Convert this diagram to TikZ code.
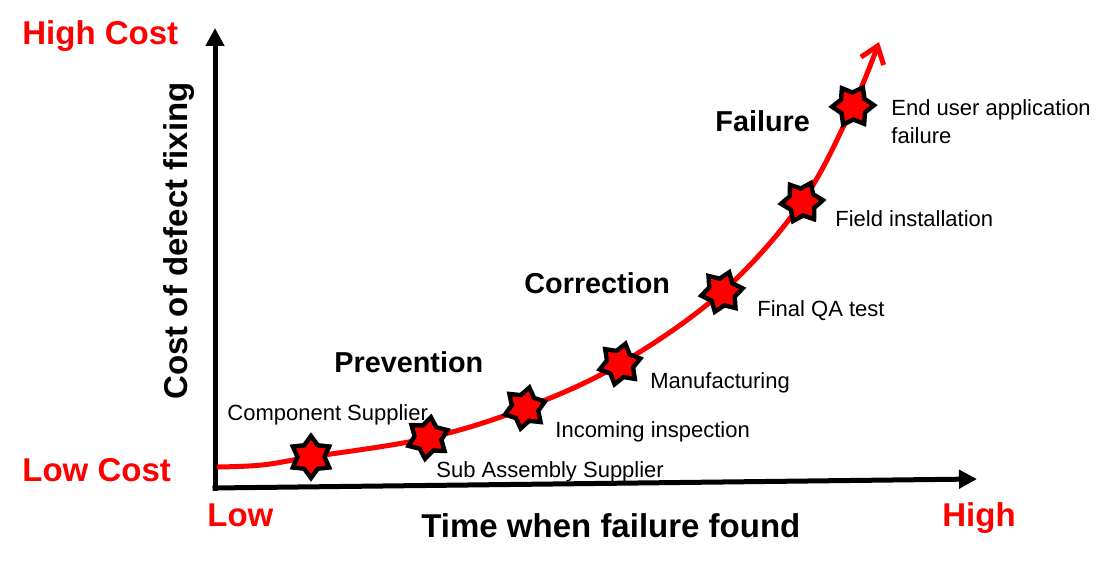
\documentclass[tikz,border=0pt]{standalone}
\usepackage{fontspec}
\setmainfont{Liberation Sans}
\usetikzlibrary{shapes.geometric,arrows.meta}
\begin{document}
\begin{tikzpicture}[x=0.5pt,y=-0.5pt,
  axis/.style={line width=2.5pt,black,-{Triangle[length=9pt,width=9pt]}},
  curve/.style={line width=2.5pt,red,-{Straight Barb[length=8pt,width=12pt,line width=2.5pt]}},
  defect/.style={star,star points=6,star point ratio=1.55,minimum size=21pt,inner sep=0pt,fill=red,draw=black,line width=2.2pt},
  bigred/.style={text=red,font=\fontsize{16.5}{19}\selectfont\bfseries,inner sep=0pt},
  bigblack/.style={text=black,font=\fontsize{16.5}{19}\selectfont\bfseries,inner sep=0pt},
  phase/.style={text=black,font=\fontsize{14.4}{17}\selectfont\bfseries,inner sep=0pt,anchor=base west},
  lbl/.style={text=black,font=\fontsize{11}{13}\selectfont,inner sep=0pt,anchor=base west,align=left}]
\useasboundingbox (0,0) rectangle (1112,567);
% axes
\coordinate (O) at (215,488);
\coordinate (Ytip) at (215,28);
\coordinate (Xtip) at (977,479);
\draw[axis] ([yshift=-1.25pt]O) -- (Ytip);
\draw[axis] ([xshift=-1.25pt]O) -- (Xtip);
% curve points
\coordinate (c0) at (217,467);
\coordinate (c1) at (262,465);
\coordinate (p1) at (311,457);
\coordinate (p2) at (428,438);
\coordinate (p3) at (525,408);
\coordinate (p4) at (620,364);
\coordinate (p5) at (722,292);
\coordinate (p6) at (802,202);
\coordinate (p7) at (853,106);
\coordinate (cend) at (879,42);
\draw[curve] plot[smooth,tension=0.6] coordinates {(c0) (c1) (p1) (p2) (p3) (p4) (p5) (p6) (p7) (cend)};
% stars
\node[defect] (s1) at (p1) {};
\node[defect,rotate=-8] (s2) at (p2) {};
\node[defect,rotate=-12] (s3) at (p3) {};
\node[defect,rotate=-15] (s4) at (p4) {};
\node[defect,rotate=-20] (s5) at (p5) {};
\node[defect,rotate=-25] (s6) at (p6) {};
\node[defect,rotate=-28] (s7) at (p7) {};
% axis labels
\node[bigred,anchor=base west] (hc) at (22,45) {High Cost};
\node[bigred,anchor=base west] (lc) at (22,481) {Low Cost};
\node[bigred,anchor=base west] (lo) at (207,526) {Low};
\node[bigred,anchor=base west] (hi) at (942,526) {High};
\node[bigblack,anchor=base west] (xt) at (421,537) {Time when failure found};
\node[bigblack,anchor=base,rotate=90] (yt) at (187,241) {Cost of defect fixing};
% phases
\node[phase] (ph1) at (334,372) {Prevention};
\node[phase] (ph2) at (524,293) {Correction};
\node[phase] (ph3) at (715,132) {Failure};
% stage labels
\node[lbl] (l1) at (227,420) {Component Supplier};
\node[lbl] (l2) at (436,477) {Sub Assembly Supplier};
\node[lbl] (l3) at (555,437) {Incoming inspection};
\node[lbl] (l4) at (650,388) {Manufacturing};
\node[lbl] (l5) at (757,316) {Final QA test};
\node[lbl] (l6) at (835,226) {Field installation};
\node[lbl] (l7a) at (891,116) {End user application};
\node[lbl] (l7b) at (891,143) {failure};
\end{tikzpicture}
\end{document}
